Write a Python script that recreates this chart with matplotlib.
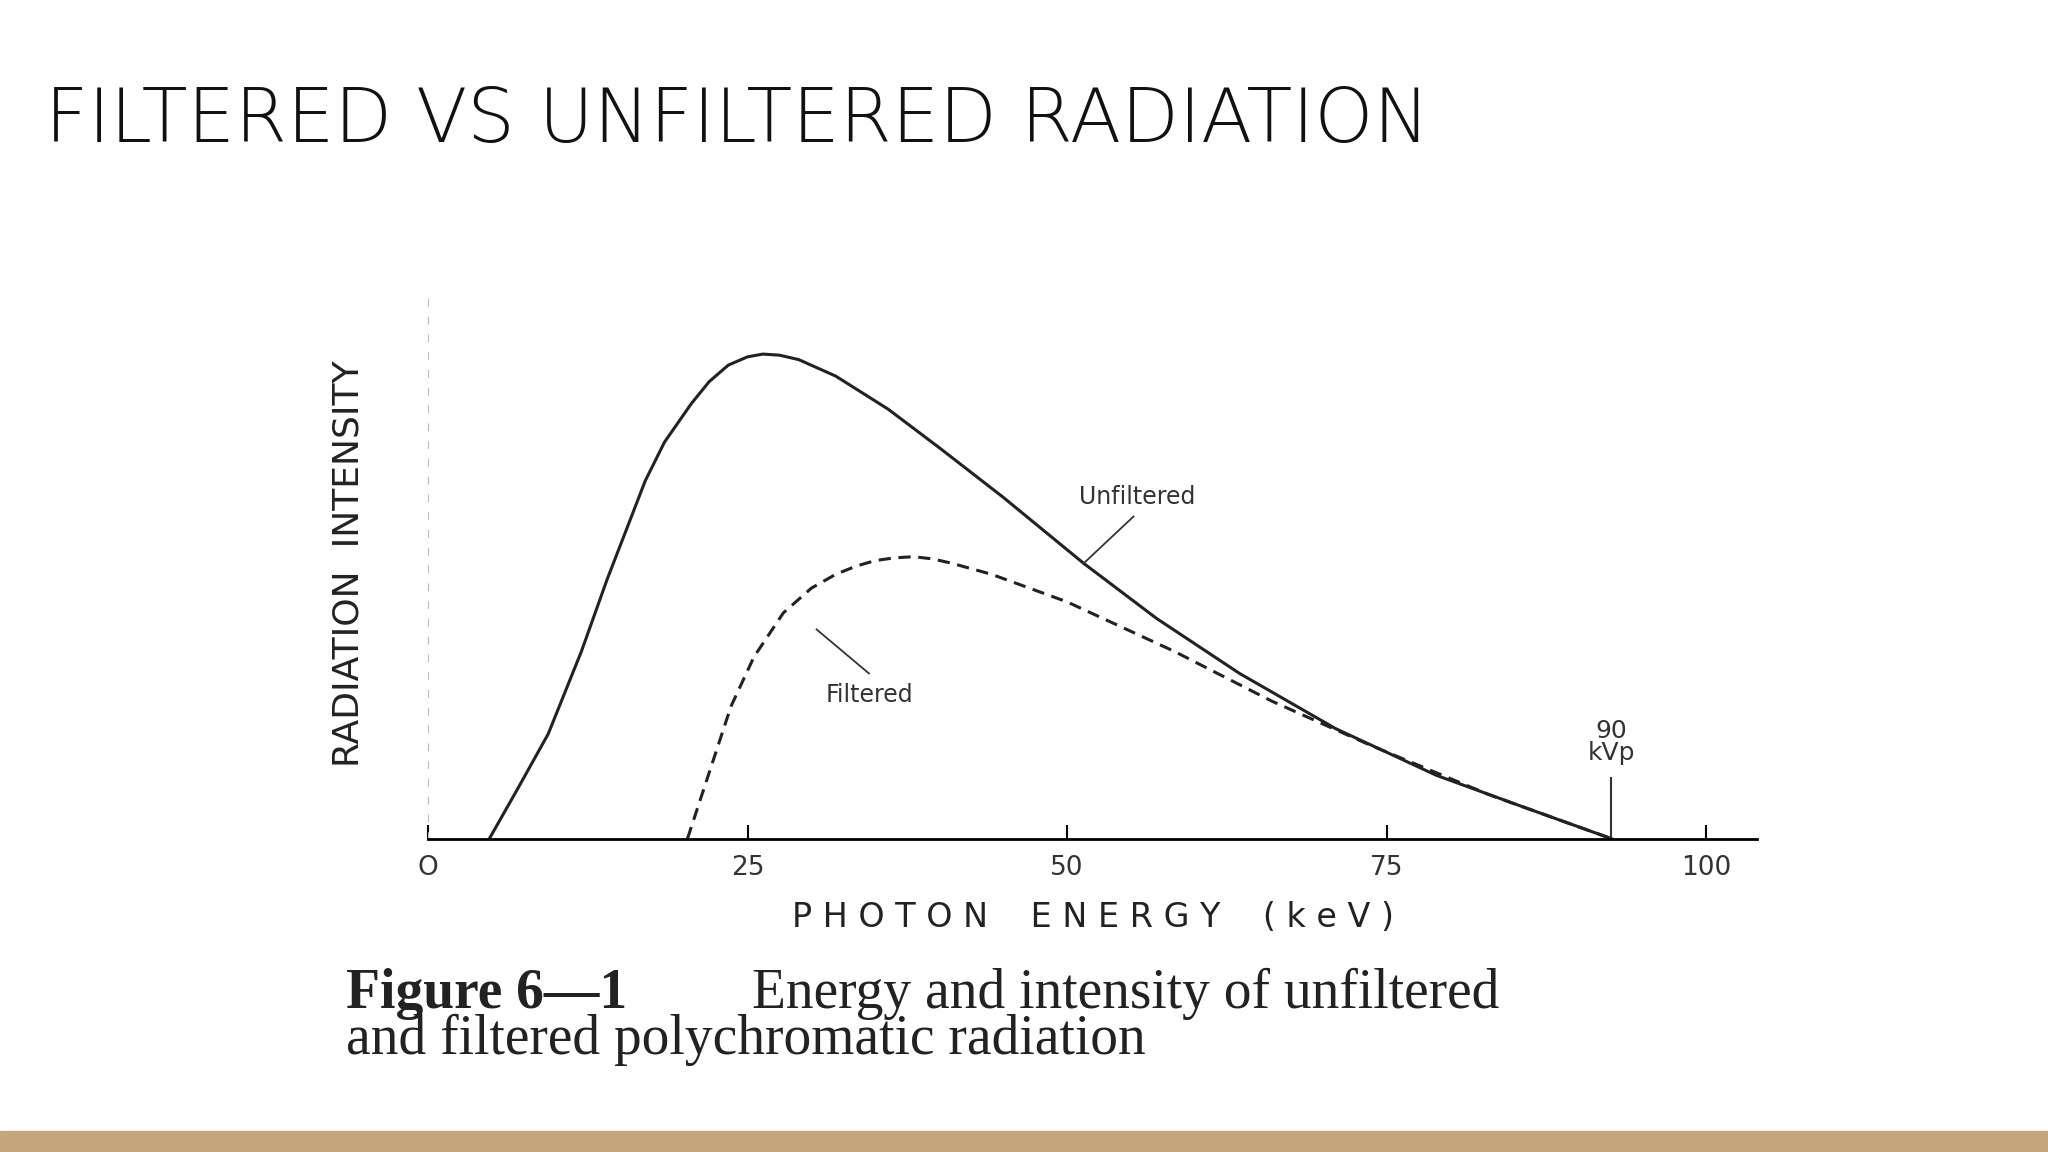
import matplotlib.pyplot as plt
import numpy as np

# photon energy (keV) vs relative intensity
unf_x = [4.8, 7, 9.4, 12, 14, 15.5, 17, 18.5, 20.6, 22, 23.5, 25, 26.2, 27.5, 29, 31.9, 36, 40, 45, 51.3, 57, 63.5, 71, 78.9, 86, 92.6]
unf_y = [0.0, 0.09, 0.19, 0.34, 0.47, 0.56, 0.65, 0.72, 0.79, 0.83, 0.86, 0.875, 0.88, 0.878, 0.87, 0.84, 0.78, 0.71, 0.62, 0.50, 0.40, 0.30, 0.20, 0.115, 0.055, 0.0]
fil_x = [20.3, 22, 23.7, 25.5, 27.8, 30, 31.9, 33.5, 35, 36.5, 38, 39.5, 41, 44.1, 50, 58.4, 66, 73.7, 83, 92.6]
fil_y = [0.0, 0.12, 0.24, 0.33, 0.41, 0.455, 0.48, 0.495, 0.505, 0.51, 0.512, 0.508, 0.50, 0.48, 0.43, 0.34, 0.25, 0.17, 0.08, 0.0]
ticks = [0, 25, 50, 75, 100]
tick_labels = ['O', '25', '50', '75', '100']

fig = plt.figure(figsize=(20.48, 11.52), dpi=100)
fig.patch.set_facecolor('white')

fig.text(0.022, 0.895, 'FILTERED VS UNFILTERED RADIATION', fontsize=54,
         family='DejaVu Sans', weight='light', color='#111111', va='center')
# tan strip at the bottom
fig.add_artist(plt.Rectangle((0, 0), 1, 0.018, transform=fig.transFigure, color='#C8A67C'))

ax = fig.add_axes([0.209, 0.272, 0.649, 0.478])
ax.plot(unf_x, unf_y, color='#222222', lw=2.2)
ax.plot(fil_x, fil_y, color='#222222', lw=2.2, ls=(0, (4, 2.5)))
ax.set_xlim(0, 104)
ax.set_ylim(0, 1)
for s in ['top', 'right']:
    ax.spines[s].set_visible(False)
ax.spines['bottom'].set_linewidth(2)
ax.spines['left'].set_color('#bbbbbb')
ax.spines['left'].set_linestyle((0, (6, 10)))
ax.set_yticks([])
ax.set_xticks(ticks)
ax.set_xticklabels(tick_labels, fontsize=19, color='#333333')
ax.tick_params(axis='x', direction='in', length=10, width=1.5, pad=12)
ax.set_xlabel('P H O T O N    E N E R G Y    ( k e V )', fontsize=24, color='#222222', labelpad=14)
ax.set_ylabel('RADIATION  INTENSITY', fontsize=26, color='#222222', labelpad=45)

ax.text(55.5, 0.62, 'Unfiltered', fontsize=17, ha='center', va='center', color='#333333')
ax.plot([55.2, 51.3], [0.585, 0.50], color='#333333', lw=1.3)
ax.text(34.5, 0.26, 'Filtered', fontsize=17, ha='center', va='center', color='#333333')
ax.plot([34.5, 30.4], [0.30, 0.38], color='#333333', lw=1.3)
ax.plot([92.6, 92.6], [0, 0.11], color='#333333', lw=1.5)
ax.text(92.6, 0.175, '90\nkVp', fontsize=18, ha='center', va='center', color='#333333', linespacing=0.9)

fig.text(0.169, 0.125, 'Figure 6\u20141', fontsize=40, weight='bold', family='Liberation Serif', color='#222222')
fig.text(0.367, 0.125, 'Energy and intensity of unfiltered', fontsize=40, family='Liberation Serif', color='#222222')
fig.text(0.169, 0.085, 'and filtered polychromatic radiation', fontsize=40, family='Liberation Serif', color='#222222')

fig.savefig('out.png', dpi=100)
